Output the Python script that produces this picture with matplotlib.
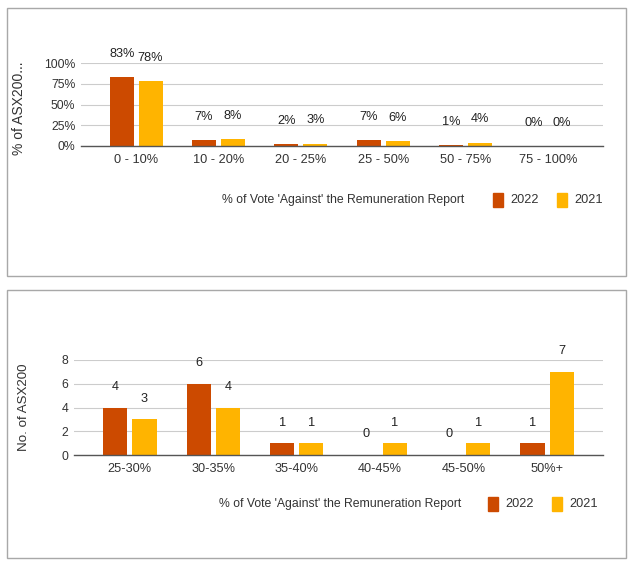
import numpy as np
import matplotlib
matplotlib.use("Agg")
import matplotlib.pyplot as plt
from matplotlib.patches import Rectangle

plt.rcParams["font.family"] = ["Liberation Sans", "DejaVu Sans"]

# top chart: share of ASX200 by vote-against band
top_cats = ["0 - 10%", "10 - 20%", "20 - 25%", "25 - 50%", "50 - 75%", "75 - 100%"]
top_2022 = [83, 7, 2, 7, 1, 0]
top_2021 = [78, 8, 3, 6, 4, 0]
top_ticks = [0, 25, 50, 75, 100]

# bottom chart: number of ASX200 companies by vote-against band
bot_cats = ["25-30%", "30-35%", "35-40%", "40-45%", "45-50%", "50%+"]
bot_2022 = [4, 6, 1, 0, 0, 1]
bot_2021 = [3, 4, 1, 1, 1, 7]
bot_ticks = [0, 2, 4, 6, 8]

series_names = ["2022", "2021"]
colors = ["#cc4a00", "#ffb400"]
xlabel = "% of Vote 'Against' the Remuneration Report"

W, H = 635, 568
FS = 9.2
fig = plt.figure(figsize=(W / 100, H / 100), dpi=100)


def px_axes(x0, y0, x1, y1):
    return fig.add_axes([x0 / W, 1 - y1 / H, (x1 - x0) / W, (y1 - y0) / H])


def frame(x0, y0, x1, y1):
    fig.patches.append(Rectangle((x0 / W, 1 - y1 / H), (x1 - x0) / W, (y1 - y0) / H,
                                 transform=fig.transFigure, fill=False,
                                 edgecolor="#a8a8a8", linewidth=1.0))


def draw_panel(ax, cats, v22, v21, ticks, ymax, fmt, ylabel, lab_off):
    x = np.arange(len(cats))
    w = 0.29
    off = 0.175
    for vals, sign, c in [(v22, -1, colors[0]), (v21, 1, colors[1])]:
        ax.bar(x + sign * off, vals, width=w, color=c, zorder=2)
        for xi, v in zip(x, vals):
            ax.annotate(fmt(v), (xi + sign * off, v), xytext=(0, lab_off),
                        textcoords="offset points", ha="center", va="bottom",
                        fontsize=FS, color="#222222")
    ax.set_xlim(-0.67, len(cats) - 0.33)
    ax.set_ylim(0, ymax)
    ax.set_yticks(ticks)
    ax.set_yticklabels([fmt(t) for t in ticks], fontsize=8.8, color="#333333")
    ax.set_xticks(x)
    ax.set_xticklabels(cats, fontsize=FS, color="#333333")
    ax.tick_params(axis="x", length=0, pad=6)
    ax.tick_params(axis="y", length=0, pad=4)
    ax.grid(axis="y", color="#cccccc", linewidth=0.8, zorder=0)
    for s in ["top", "right", "left"]:
        ax.spines[s].set_visible(False)
    ax.spines["bottom"].set_color("#555555")
    ax.spines["bottom"].set_linewidth(1.0)
    ax.spines["bottom"].set_zorder(3)
    ax.set_ylabel(ylabel, fontsize=10, color="#333333")


# top panel
frame(7, 8, 626, 276)
ax1 = px_axes(81, 63, 603, 146)
draw_panel(ax1, top_cats, top_2022, top_2021, top_ticks, 100,
           lambda v: f"{v:g}%", "% of ASX200...", 12.5)
ax1.yaxis.set_label_coords(-55 / 522, 0.45)
fig.text(343 / W, 1 - 200 / H, xlabel, ha="center", va="center",
         fontsize=8.8, color="#333333")

# bottom panel
frame(7, 290, 626, 558)
ax2 = px_axes(74, 360, 603, 455)
draw_panel(ax2, bot_cats, bot_2022, bot_2021, bot_ticks, 8,
           lambda v: f"{v:g}", "No. of ASX200", 10.5)
ax2.yaxis.set_label_coords(-44 / 529, 0.5)
ax2.yaxis.label.set_fontsize(9.6)
fig.text(340 / W, 1 - 504 / H, xlabel, ha="center", va="center",
         fontsize=8.8, color="#333333")

# legends
for (lx, ly) in [(498, 200), (493, 504)]:
    for i, (name, c) in enumerate(zip(series_names, colors)):
        sx = lx + i * 64
        fig.patches.append(Rectangle(((sx - 5) / W, 1 - (ly + 7) / H), 10 / W, 14 / H,
                                     transform=fig.transFigure, color=c))
        fig.text((sx + 12) / W, 1 - ly / H, name, ha="left", va="center",
                 fontsize=FS, color="#333333")

fig.savefig("out.png", dpi=100)
